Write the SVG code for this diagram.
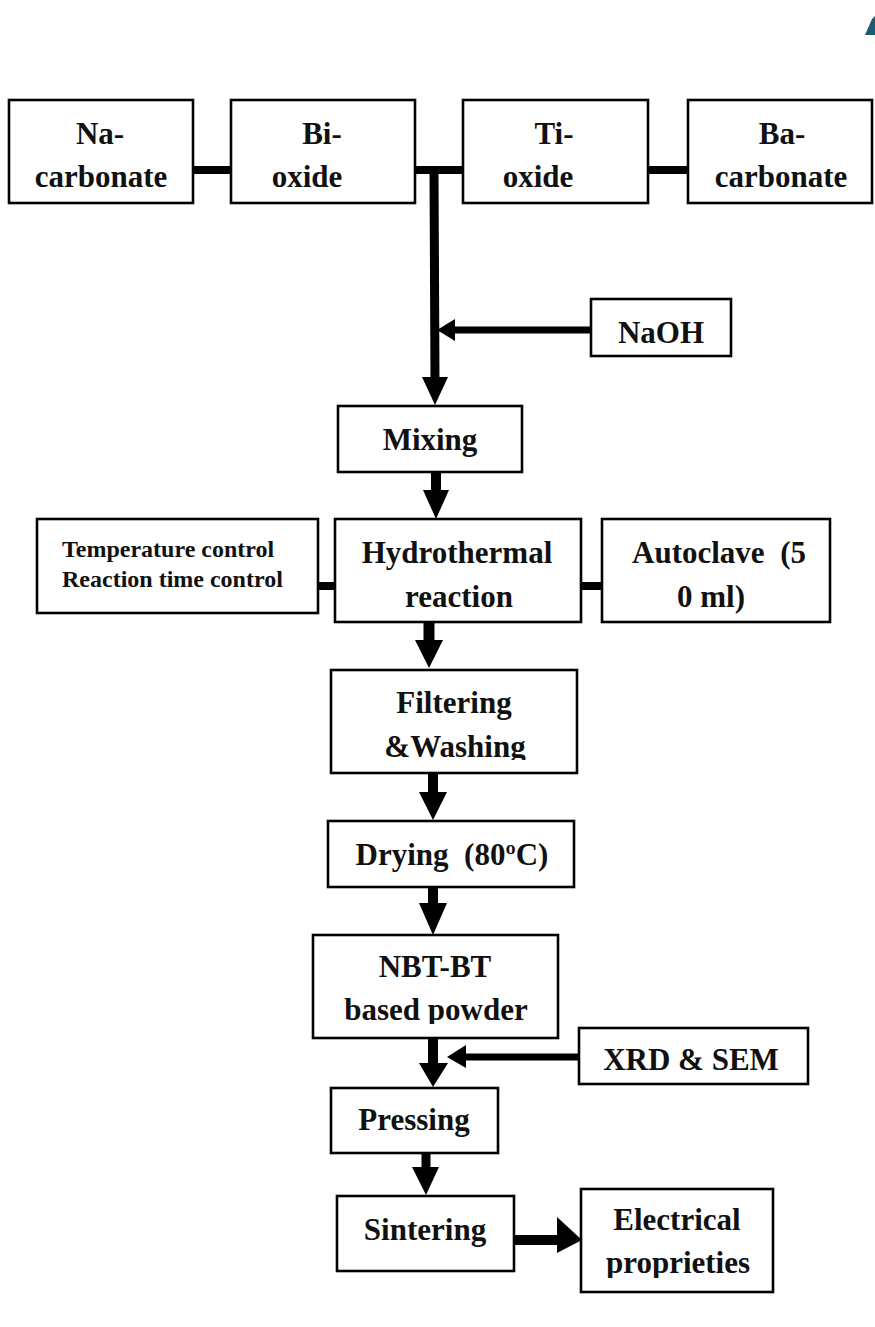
<svg xmlns="http://www.w3.org/2000/svg" width="875" height="1327" viewBox="0 0 875 1327">
<style>
.box{fill:#fff;stroke:#000;stroke-width:2.6}
.t{font-family:"Liberation Serif","Times New Roman",serif;font-weight:bold;font-size:31px;fill:#111;text-anchor:middle;white-space:pre}
.s{font-family:"Liberation Serif","Times New Roman",serif;font-weight:bold;font-size:24px;fill:#111}
.bar{fill:#000}
.sh{stroke:#000;fill:none}
.hd{fill:#000}
</style>
<defs>
<clipPath id="c1"><rect x="0" y="0" width="875" height="760"/></clipPath>
<clipPath id="c2"><rect x="0" y="0" width="875" height="1024"/></clipPath>
<clipPath id="c3"><rect x="0" y="0" width="875" height="1278"/></clipPath>
</defs>
<rect width="875" height="1327" fill="#fff"/>
<polygon points="865,35 872,19 875,16 875,35" fill="#1d5a73"/>
<g id="connectors">
<rect class="bar" x="193" y="166" width="38" height="8"/>
<rect class="bar" x="415" y="166" width="47" height="8"/>
<rect class="bar" x="648" y="166" width="40" height="8"/>
<line class="sh" x1="434" y1="170" x2="435" y2="380" stroke-width="9"/>
<polygon class="hd" points="422,377 448,377 435,405"/>
<line class="sh" x1="591" y1="330" x2="452" y2="330" stroke-width="7"/>
<polygon class="hd" points="455,319 455,341 437,330"/>
<line class="sh" x1="436" y1="472" x2="436" y2="492" stroke-width="10"/>
<polygon class="hd" points="423,490 449,490 436,519"/>
<rect class="bar" x="316" y="582" width="20" height="8"/>
<rect class="bar" x="580" y="582" width="22" height="8"/>
<line class="sh" x1="429" y1="622" x2="429" y2="642" stroke-width="11"/>
<polygon class="hd" points="415,640 443,640 429,668"/>
<line class="sh" x1="433" y1="773" x2="433" y2="794" stroke-width="10"/>
<polygon class="hd" points="419,792 447,792 433,820"/>
<line class="sh" x1="433" y1="887" x2="433" y2="905" stroke-width="10"/>
<polygon class="hd" points="419,903 447,903 433,935"/>
<line class="sh" x1="433" y1="1038" x2="433" y2="1065" stroke-width="10"/>
<polygon class="hd" points="419,1063 448,1063 433,1087"/>
<line class="sh" x1="579" y1="1057" x2="462" y2="1057" stroke-width="7"/>
<polygon class="hd" points="466,1045 466,1068 447,1057"/>
<line class="sh" x1="426" y1="1150" x2="426" y2="1169" stroke-width="9"/>
<polygon class="hd" points="412,1167 439,1167 426,1195"/>
<line class="sh" x1="514" y1="1240" x2="559" y2="1240" stroke-width="10"/>
<polygon class="hd" points="557,1217 557,1253 582,1240"/>
</g>
<g id="na">
<rect class="box" x="9" y="100" width="184" height="103"/>
<text class="t" x="100" y="144">Na-</text>
<text class="t" x="101" y="187">carbonate</text>
</g>
<g id="bi">
<rect class="box" x="231" y="100" width="184" height="103"/>
<text class="t" x="322" y="144">Bi-</text>
<text class="t" x="307" y="187">oxide</text>
</g>
<g id="ti">
<rect class="box" x="463" y="100" width="185" height="103"/>
<text class="t" x="554" y="144">Ti-</text>
<text class="t" x="538" y="187">oxide</text>
</g>
<g id="ba">
<rect class="box" x="688" y="100" width="184" height="103"/>
<text class="t" x="782" y="144">Ba-</text>
<text class="t" x="781" y="187">carbonate</text>
</g>
<g id="naoh">
<rect class="box" x="591" y="299" width="140" height="57"/>
<text class="t" x="661" y="343">NaOH</text>
</g>
<g id="mixing">
<rect class="box" x="338" y="406" width="184" height="66"/>
<text class="t" x="430" y="450">Mixing</text>
</g>
<g id="control">
<rect class="box" x="37" y="519" width="281" height="94"/>
<text class="s" x="62" y="557">Temperature control</text>
<text class="s" x="62" y="587">Reaction time control</text>
</g>
<g id="hydro">
<rect class="box" x="335" y="519" width="246" height="103"/>
<text class="t" x="457" y="563">Hydrothermal</text>
<text class="t" x="459" y="607">reaction</text>
</g>
<g id="autoclave">
<rect class="box" x="602" y="519" width="228" height="103"/>
<text class="t" x="719" y="563">Autoclave  (5</text>
<text class="t" x="711" y="607">0 ml)</text>
</g>
<g id="filtering">
<rect class="box" x="331" y="670" width="246" height="103"/>
<text class="t" x="454" y="713">Filtering</text>
<text class="t" x="455" y="757" clip-path="url(#c1)">&amp;Washing</text>
</g>
<g id="drying">
<rect class="box" x="328" y="821" width="246" height="66"/>
<text class="t" x="452" y="865">Drying  (80ºC)</text>
</g>
<g id="powder">
<rect class="box" x="313" y="935" width="245" height="103"/>
<text class="t" x="435" y="977">NBT-BT</text>
<text class="t" x="436" y="1020" clip-path="url(#c2)">based powder</text>
</g>
<g id="xrd">
<rect class="box" x="579" y="1028" width="229" height="56"/>
<text class="t" x="691" y="1070">XRD &amp; SEM</text>
</g>
<g id="pressing">
<rect class="box" x="331" y="1088" width="167" height="65"/>
<text class="t" x="414" y="1130">Pressing</text>
</g>
<g id="sintering">
<rect class="box" x="337" y="1196" width="177" height="75"/>
<text class="t" x="425" y="1240">Sintering</text>
</g>
<g id="electrical">
<rect class="box" x="581" y="1189" width="192" height="103"/>
<text class="t" x="677" y="1230">Electrical</text>
<text class="t" x="678" y="1273" clip-path="url(#c3)">proprieties</text>
</g>
</svg>
